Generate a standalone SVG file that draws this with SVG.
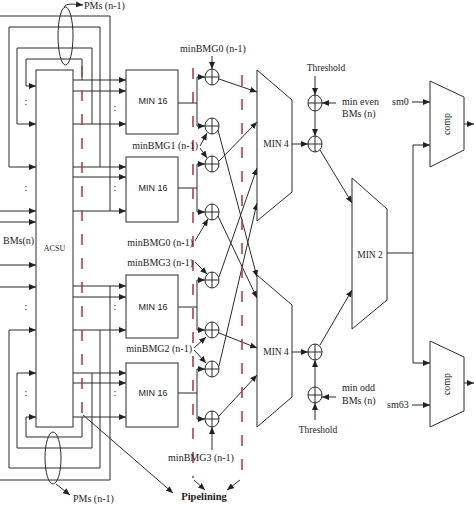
<svg xmlns="http://www.w3.org/2000/svg" width="474" height="505" viewBox="0 0 474 505">
<defs>
<marker id="ah" markerWidth="7" markerHeight="6" refX="7" refY="3" orient="auto" markerUnits="userSpaceOnUse"><path d="M0,0 L7,3 L0,6 z" fill="#222"/></marker>
<g id="add"><ellipse cx="0" cy="0" rx="7" ry="8" fill="#fff" stroke="#2a2a2a" stroke-width="1"/><path d="M-7,0 H7 M0,-8 V8" stroke="#2a2a2a" stroke-width="1" fill="none"/></g>
</defs>
<style>
.ln{fill:none;stroke:#2a2a2a;stroke-width:1}
.ar{marker-end:url(#ah)}
.box{fill:#fff;stroke:#2a2a2a;stroke-width:1}
.pipe{fill:none;stroke:#b43c46;stroke-width:1.6;stroke-dasharray:11 13}
.sf{font-family:"Liberation Serif","Times New Roman",serif;fill:#222}
.ss{font-family:"Liberation Sans",Arial,sans-serif;fill:#222}
.lb{font-size:10px}
.mid{text-anchor:middle}
.end{text-anchor:end}
</style>
<rect width="474" height="505" fill="#fff"/>

<g id="connectors">
  <!-- ACSU to MIN16 buses -->
  <path class="ln ar" d="M73,80 H126"/>
  <path class="ln ar" d="M73,91 H126"/>
  <path class="ln ar" d="M73,124 H126"/>
  <path class="ln ar" d="M73,167 H126"/>
  <path class="ln ar" d="M73,177 H126"/>
  <path class="ln ar" d="M73,211 H126"/>
  <path class="ln ar" d="M73,286 H126"/>
  <path class="ln ar" d="M73,297 H126"/>
  <path class="ln ar" d="M73,330 H126"/>
  <path class="ln ar" d="M73,373 H126"/>
  <path class="ln ar" d="M73,383 H126"/>
  <path class="ln ar" d="M73,417 H126"/>
  <!-- feedback loops PMs(n-1) -->
  <path class="ln ar" d="M82,80 V59 H26 V86 H36"/>
  <path class="ln ar" d="M92,124 V48 H17 V124 H36"/>
  <path class="ln ar" d="M100,167 V27 H9 V167 H36"/>
  <path class="ln" d="M110,211 V16 H0"/>
  <path class="ln" d="M110,286 V480 H0"/>
  <path class="ln ar" d="M100,330 V468 H9 V330 H36"/>
  <path class="ln ar" d="M92,373 V448 H17 V373 H36"/>
  <path class="ln ar" d="M82,417 V437 H26 V417 H36"/>
  <!-- BMs(n) inputs -->
  <path class="ln ar" d="M0,211 H36"/>
  <path class="ln ar" d="M0,222 H36"/>
  <path class="ln ar" d="M0,265 H36"/>
  <path class="ln ar" d="M0,287 H36"/>
  <!-- PM bundle ellipses -->
  <ellipse class="ln" cx="65.5" cy="36" rx="7.5" ry="29"/>
  <ellipse class="ln" cx="53" cy="458" rx="8" ry="26"/>
  <path class="ln ar" d="M64,7 C66,3 72,4 83,5"/>
  <path class="ln ar" d="M56,484 L70,495"/>
  <!-- MIN16 outputs to adders -->
  <path class="ln" d="M178,103 H197"/>
  <path class="ln ar" d="M197,103 V77 H205"/>
  <path class="ln ar" d="M197,103 V126 H205"/>
  <path class="ln" d="M178,188 H197"/>
  <path class="ln ar" d="M197,188 V164 H205"/>
  <path class="ln ar" d="M197,188 V212 H205"/>
  <path class="ln" d="M178,307 H197"/>
  <path class="ln ar" d="M197,307 V280 H205"/>
  <path class="ln ar" d="M197,307 V330 H205"/>
  <path class="ln" d="M178,393 H197"/>
  <path class="ln ar" d="M197,393 V369 H205"/>
  <path class="ln ar" d="M197,393 V419 H205"/>
  <!-- minBMG inputs -->
  <path class="ln ar" d="M212,56 V69"/>
  <path class="ln ar" d="M200,146 L207,133"/>
  <path class="ln ar" d="M200,148 L207,158"/>
  <path class="ln ar" d="M195,241 L208,219"/>
  <path class="ln ar" d="M195,262 L207,274"/>
  <path class="ln ar" d="M194,348 L206,337"/>
  <path class="ln ar" d="M194,350 L206,363"/>
  <path class="ln ar" d="M212,450 V427"/>
  <!-- adders to MIN4 -->
  <path class="ln ar" d="M219,79 L257,92"/>
  <path class="ln ar" d="M218,130 L257,277"/>
  <path class="ln ar" d="M219,161 L257,122"/>
  <path class="ln ar" d="M218,216 L257,298"/>
  <path class="ln ar" d="M219,277 L257,168"/>
  <path class="ln ar" d="M219,333 L257,348"/>
  <path class="ln ar" d="M219,366 L257,203"/>
  <path class="ln ar" d="M219,416 L257,375"/>
  <!-- MIN4 outputs and thresholds -->
  <path class="ln ar" d="M292,144 H308"/>
  <path class="ln ar" d="M292,352 H308"/>
  <path class="ln ar" d="M315,76 V95"/>
  <path class="ln ar" d="M315,111 V136"/>
  <path class="ln ar" d="M336,103 H322"/>
  <path class="ln ar" d="M315,420 V403"/>
  <path class="ln ar" d="M315,387 V360"/>
  <path class="ln ar" d="M336,397 H322"/>
  <path class="ln ar" d="M320,150 L352,203"/>
  <path class="ln ar" d="M320,345 L352,290"/>
  <!-- MIN2 to comps -->
  <path class="ln" d="M387,253 H413"/>
  <path class="ln ar" d="M413,253 V145 H430"/>
  <path class="ln ar" d="M413,253 V363 H430"/>
  <path class="ln ar" d="M412,102 H430"/>
  <path class="ln ar" d="M412,405 H430"/>
  <path class="ln ar" d="M464,124 H474"/>
  <path class="ln ar" d="M464,383 H474"/>
</g>

<g id="pipelining">
  <path class="pipe" d="M82,66 V420"/>
  <path class="pipe" d="M193,68 V478"/>
  <path class="pipe" d="M242,75 V478"/>
  <path class="ln ar" d="M83,415 L173,493"/>
  <path class="ln ar" d="M194,480 L205,490"/>
  <path class="ln ar" d="M240,480 L227,490"/>
  <text class="sf mid" x="204" y="500" font-size="10.5" font-weight="bold">Pipelining</text>
</g>

<g id="acsu">
  <rect class="box" x="36" y="70" width="37" height="357"/>
  <text class="sf mid" x="54.5" y="251" font-size="8">ACSU</text>
</g>

<g id="min16-1"><rect class="box" x="126" y="70" width="52" height="64"/><text class="ss mid" x="153" y="104" font-size="9">MIN 16</text></g>
<g id="min16-2"><rect class="box" x="126" y="157" width="52" height="65"/><text class="ss mid" x="153" y="191" font-size="9">MIN 16</text></g>
<g id="min16-3"><rect class="box" x="126" y="275" width="52" height="63"/><text class="ss mid" x="153" y="310" font-size="9">MIN 16</text></g>
<g id="min16-4"><rect class="box" x="126" y="363" width="52" height="64"/><text class="ss mid" x="153" y="396" font-size="9">MIN 16</text></g>

<g id="adders">
  <use href="#add" transform="translate(212,77)"/>
  <use href="#add" transform="translate(212,126)"/>
  <use href="#add" transform="translate(212,164)"/>
  <use href="#add" transform="translate(212,212)"/>
  <use href="#add" transform="translate(212,280)"/>
  <use href="#add" transform="translate(212,330)"/>
  <use href="#add" transform="translate(212,369)"/>
  <use href="#add" transform="translate(212,419)"/>
</g>

<g id="min4-1"><polygon class="box" points="257,70 292,100 292,192 257,221"/><text class="sf mid" x="276" y="147" font-size="9.5">MIN 4</text></g>
<g id="min4-2"><polygon class="box" points="257,275 292,305 292,397 257,427"/><text class="sf mid" x="276" y="355" font-size="9.5">MIN 4</text></g>

<g id="threshold-top">
  <use href="#add" transform="translate(315,103)"/>
  <use href="#add" transform="translate(315,144)"/>
</g>
<g id="threshold-bottom">
  <use href="#add" transform="translate(315,352)"/>
  <use href="#add" transform="translate(315,395)"/>
</g>

<g id="min2"><polygon class="box" points="352,178 387,209 387,300 352,329"/><text class="sf mid" x="370" y="258" font-size="9.5">MIN 2</text></g>

<g id="comp1"><polygon class="box" points="430,81 464,97 464,150 430,167"/><text class="sf mid" transform="translate(450,124) rotate(-90)" x="0" y="0" font-size="10">comp</text></g>
<g id="comp2"><polygon class="box" points="430,341 464,357 464,411 430,427"/><text class="sf mid" transform="translate(450,384) rotate(-90)" x="0" y="0" font-size="10">comp</text></g>

<g id="labels" class="sf lb">
  <text x="84" y="9">PMs (n-1)</text>
  <text x="73" y="502">PMs (n-1)</text>
  <text x="3" y="244">BMs(n)</text>
  <text class="mid" x="213" y="52">minBMG0 (n-1)</text>
  <text class="end" x="198" y="149">minBMG1 (n-1)</text>
  <text class="end" x="193" y="246">minBMG0 (n-1)</text>
  <text class="end" x="193" y="266">minBMG3 (n-1)</text>
  <text class="end" x="192" y="352">minBMG2 (n-1)</text>
  <text class="mid" x="201" y="461">minBMG3 (n-1)</text>
  <text class="mid" x="326" y="71" font-size="9.5">Threshold</text>
  <text class="mid" x="318" y="433" font-size="9.5">Threshold</text>
  <text x="342" y="105">min even</text>
  <text x="342" y="117">BMs (n)</text>
  <text x="342" y="391">min odd</text>
  <text x="342" y="404">BMs (n)</text>
  <text x="392" y="105">sm0</text>
  <text x="387" y="408">sm63</text>
  <text class="mid" x="26" y="105">:</text>
  <text class="mid" x="26" y="191">:</text>
  <text class="mid" x="26" y="310">:</text>
  <text class="mid" x="26" y="396">:</text>
  <text class="mid" x="115" y="111">:</text>
  <text class="mid" x="115" y="191">:</text>
  <text class="mid" x="115" y="310">:</text>
  <text class="mid" x="115" y="396">:</text>
</g>
</svg>
